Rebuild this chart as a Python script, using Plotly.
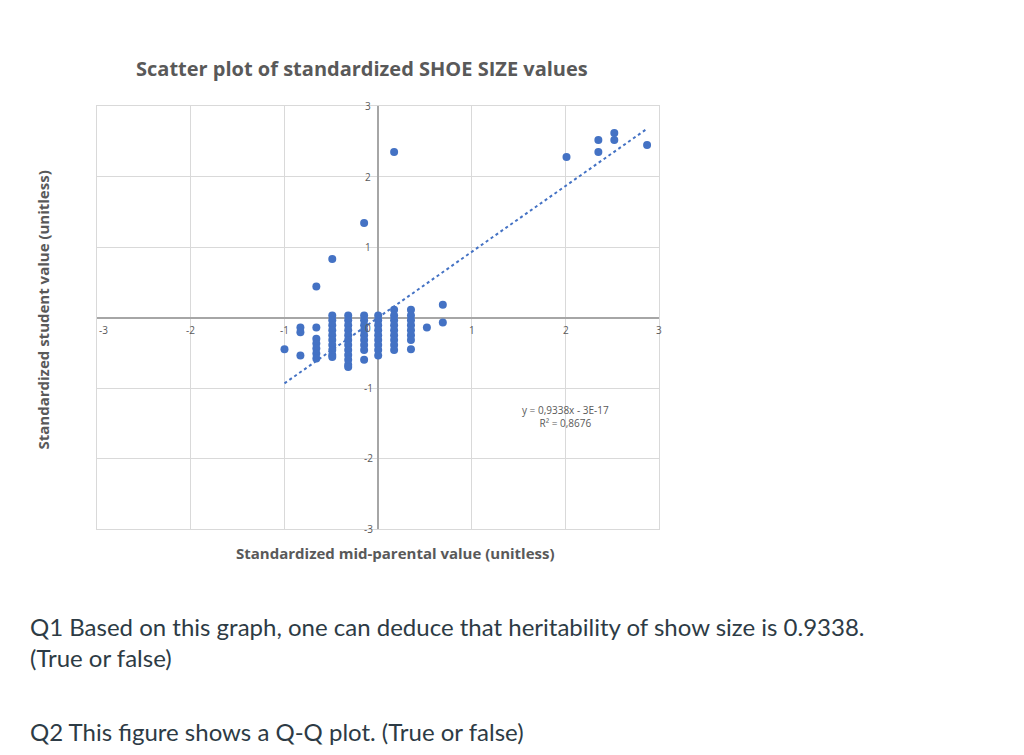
import plotly.graph_objects as go

# columns of mid-parental values with student values
col_x = [-1.0, -0.83, -0.66, -0.49, -0.32, -0.15, 0.0, 0.17, 0.35, 0.52, 0.69]
col_y = [
    [-0.45],
    [-0.14, -0.21, -0.54],
    [0.44, -0.14, -0.30, -0.37, -0.44, -0.51, -0.58],
    [0.83, 0.03, -0.04, -0.11, -0.18, -0.25, -0.32, -0.39, -0.46, -0.53, -0.56],
    [0.03, -0.04, -0.11, -0.18, -0.25, -0.32, -0.39, -0.46, -0.53, -0.60, -0.67, -0.70],
    [1.34, 0.03, -0.04, -0.11, -0.18, -0.25, -0.32, -0.39, -0.46, -0.60],
    [0.03, -0.04, -0.11, -0.18, -0.25, -0.32, -0.39, -0.46, -0.54],
    [2.35, 0.11, 0.03, -0.04, -0.11, -0.18, -0.25, -0.32, -0.39, -0.46],
    [0.11, 0.03, -0.04, -0.11, -0.18, -0.25, -0.32, -0.45],
    [-0.14],
    [0.18, -0.07],
]
top_x = [2.01, 2.35, 2.35, 2.52, 2.52, 2.87]
top_y = [2.28, 2.52, 2.35, 2.62, 2.52, 2.45]
slope, intercept = 0.9338, -3e-17
ticks = [-3, -2, -1, 1, 2, 3]

xs, ys = [], []
for cx, cy in zip(col_x, col_y):
    xs += [cx] * len(cy)
    ys += cy
xs += top_x
ys += top_y

blue = "#4472C4"
fig = go.Figure()
fig.add_trace(go.Scatter(x=xs, y=ys, mode="markers",
                         marker=dict(color=blue, size=8), showlegend=False))
lx = [min(xs), max(xs)]
fig.add_trace(go.Scatter(x=lx, y=[slope * v + intercept for v in lx], mode="lines",
                         line=dict(color=blue, width=2, dash="dot"), showlegend=False))

tf = dict(family="Open Sans", size=10, color="#595959")
ann = []
for t in ticks:
    ann.append(dict(x=t, y=0, xref="x", yref="y", text=str(t), showarrow=False,
                    font=tf, yshift=-12, xshift=(6 if t == -3 else 0)))
    ann.append(dict(x=0, y=t, xref="x", yref="y", text=str(t), showarrow=False,
                    font=tf, xshift=-10))
ann.append(dict(x=0, y=0, xref="x", yref="y", text="0", showarrow=False, font=tf,
                xshift=-10, yshift=-10))
ann.append(dict(x=2.0, y=-1.4, xref="x", yref="y", showarrow=False, font=tf,
                text="y = 0,9338x - 3E-17<br>R² = 0,8676"))
ann += [
    dict(x=0.346, y=0.94, xref="paper", yref="paper", showarrow=False,
         text="<b>Scatter plot of standardized SHOE SIZE values</b>",
         font=dict(family="Open Sans", size=20, color="#595959")),
    dict(x=0.378, y=0.262, xref="paper", yref="paper", showarrow=False,
         text="<b>Standardized mid-parental value (unitless)</b>",
         font=dict(family="Open Sans", size=15, color="#595959")),
    dict(x=0.022, y=0.60, xref="paper", yref="paper", showarrow=False, textangle=-90,
         text="<b>Standardized student value (unitless)</b>",
         font=dict(family="Open Sans", size=15, color="#595959")),
    dict(x=0.02, y=0.118, xref="paper", yref="paper", showarrow=False, xanchor="left",
         align="left", text="Q1 Based on this graph, one can deduce that heritability of show size is 0.9338.<br>(True or false)",
         font=dict(family="Lato", size=24, color="#2d3b45")),
    dict(x=0.02, y=0.02, xref="paper", yref="paper", showarrow=False, xanchor="left",
         text="Q2 This figure shows a Q-Q plot. (True or false)",
         font=dict(family="Lato", size=24, color="#2d3b45")),
]

ax = dict(range=[-3, 3], dtick=1, showticklabels=False, showgrid=True, gridcolor="#d9d9d9",
          zeroline=True, zerolinecolor="#a6a6a6", zerolinewidth=1.5,
          showline=True, linecolor="#d9d9d9", mirror=True, ticks="")
fig.update_layout(
    width=1024, height=755, margin=dict(l=0, r=0, t=0, b=0),
    paper_bgcolor="white", plot_bgcolor="white",
    xaxis=dict(ax, domain=[0.087, 0.636]),
    yaxis=dict(ax, domain=[0.31, 0.87]),
    annotations=ann,
)
fig.write_html("out.html")
